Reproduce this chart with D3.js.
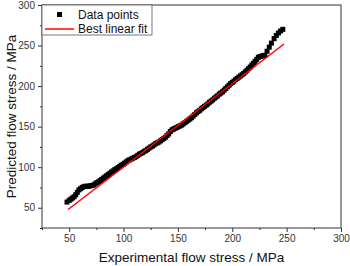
<!DOCTYPE html>
<html>
<head>
<meta charset="utf-8">
<script src="https://cdn.jsdelivr.net/npm/d3@7/dist/d3.min.js"></script>
<style>
  html, body { margin: 0; padding: 0; background: #fff; }
  svg { display: block; font-family: "Liberation Sans", Arial, sans-serif; }
</style>
</head>
<body>
<div id="chart"></div>
<script>
// experimental vs predicted flow stress (MPa)
const expX = [
  48, 50, 51.5, 53, 54.5, 56, 57.5, 59, 60.5, 62, 63.5, 65, 66.5, 68, 69.5, 71, 72.5, 74, 75.5, 77,
  78.5, 80, 81.5, 83, 84.5, 86, 87.5, 89, 90.5, 92, 93.5, 95, 96.5, 98, 99.5, 101, 102.5, 104, 105.5,
  107, 108.5, 110, 111.5, 113, 114.5, 116, 117.5, 119, 120.5, 122, 123.5, 125, 126.5, 128, 129.5, 131,
  132.5, 134, 135.5, 137, 138.5, 140, 141.5, 143, 144.5, 146, 147.5, 149, 150.5, 152, 153.5, 155, 156.5,
  158, 159.5, 161, 162.5, 164, 165.5, 167, 168.5, 170,
  171.5, 173, 174.5, 176, 177.5, 179, 180.5, 182, 183.5, 185, 186.5, 188, 189.5, 191, 192.5, 194, 195.5,
  197, 198.5, 200, 201.5, 203, 204.5, 206, 207.5, 209, 210.5, 212, 213.5, 215, 216.5, 218, 219.5, 221,
  222.5, 224, 225.5, 227, 228.5, 230,
  232, 234, 236, 238.5, 240.5, 242.5, 244.5, 246.5
];
const predY = [
  57, 59, 60.5, 62, 63.5, 66, 69, 72, 73.5, 75, 76, 76.5, 76.5, 76.5, 77, 77.5, 78, 79.5, 81, 82,
  83.5, 85, 86.5, 88, 89.5, 91, 92.5, 94, 95.5, 97, 98, 99.5, 101, 102.5, 103.5, 105, 106.5, 108, 109,
  110, 111, 112, 113, 114.5, 116, 117, 118, 119.5, 120.5, 122, 123.5, 125, 126, 127.5, 129, 130,
  131, 132.5, 134, 135.5, 137, 139, 141, 144, 146, 147, 148, 149, 150, 151, 152, 153.5, 155,
  156.5, 158, 159.5, 161, 163, 165, 167, 168.5, 170,
  172, 173.5, 175, 176.5, 178, 180, 181.5, 183, 185, 186.5, 188, 190, 191.5, 193, 195, 197, 199,
  201, 203, 204.5, 206, 208, 209.5, 211, 212.5, 214, 215.5, 217.5, 219.5, 221.5, 223.5, 226, 228, 230.5,
  233, 235.5, 236.5, 237, 237.5, 238,
  243, 248, 253, 258.5, 262.5, 265.5, 268, 270
];
// best linear fit end points
const fitX = [49, 247.6];
const fitY = [47.8, 251.9];

const xTicks = [50, 100, 150, 200, 250, 300];
const yTicks = [50, 100, 150, 200, 250, 300];
const minorTicks = [25, 75, 125, 175, 225, 275];
const legendItems = ["Data points", "Best linear fit"];

const width = 350, height = 266;
const margin = { top: 5, right: 9, bottom: 38, left: 42 };
const innerW = width - margin.left - margin.right;
const innerH = height - margin.top - margin.bottom;

const svg = d3.select("#chart").append("svg")
  .attr("width", width)
  .attr("height", height);

const g = svg.append("g")
  .attr("transform", `translate(${margin.left},${margin.top})`);

const x = d3.scaleLinear().domain([25, 300]).range([0, innerW]);
const y = d3.scaleLinear().domain([25, 300]).range([innerH, 0]);

// axes
const xAxis = g.append("g")
  .attr("transform", `translate(0,${innerH})`)
  .call(d3.axisBottom(x).tickValues(xTicks).tickSize(4).tickPadding(3));
const xMinor = g.append("g")
  .attr("transform", `translate(0,${innerH})`)
  .call(d3.axisBottom(x).tickValues(minorTicks).tickSize(2).tickFormat(""));
const yAxis = g.append("g")
  .call(d3.axisLeft(y).tickValues(yTicks).tickSize(4).tickPadding(3));
const yMinor = g.append("g")
  .call(d3.axisLeft(y).tickValues(minorTicks).tickSize(2).tickFormat(""));

[xAxis, xMinor, yAxis, yMinor].forEach(a => {
  a.select(".domain").remove();
  a.selectAll("line").attr("stroke", "#333").attr("stroke-width", 1);
  a.selectAll("text").attr("fill", "#333").style("font-size", "10px");
});

// frame
g.append("rect")
  .attr("x", 0).attr("y", 0)
  .attr("width", innerW).attr("height", innerH)
  .attr("fill", "none")
  .attr("stroke", "#333")
  .attr("stroke-width", 1);

// data squares
g.selectAll(".pt")
  .data(expX.map((v, i) => ({ x: v, y: predY[i] })))
  .enter().append("rect")
  .attr("class", "pt")
  .attr("x", d => x(d.x) - 2.5)
  .attr("y", d => y(d.y) - 2.5)
  .attr("width", 5)
  .attr("height", 5)
  .attr("fill", "#000");

// fit line
g.append("line")
  .attr("x1", x(fitX[0])).attr("y1", y(fitY[0]))
  .attr("x2", x(fitX[1])).attr("y2", y(fitY[1]))
  .attr("stroke", "#f00")
  .attr("stroke-width", 1.5);

// legend
const lg = g.append("g");
lg.append("rect")
  .attr("x", 0).attr("y", 0)
  .attr("width", 110).attr("height", 30)
  .attr("fill", "#fff")
  .attr("stroke", "#555")
  .attr("stroke-width", 0.8);
lg.append("rect")
  .attr("x", 15).attr("y", 7)
  .attr("width", 5).attr("height", 5)
  .attr("fill", "#000");
lg.append("line")
  .attr("x1", 3).attr("x2", 32)
  .attr("y1", 24).attr("y2", 24)
  .attr("stroke", "#f00")
  .attr("stroke-width", 1.5);
lg.selectAll(".lt")
  .data(legendItems)
  .enter().append("text")
  .attr("class", "lt")
  .attr("x", 36)
  .attr("y", (d, i) => 10 + i * 14)
  .attr("dy", "0.35em")
  .attr("fill", "#111")
  .style("font-size", "12px")
  .text(d => d);

// axis titles
svg.append("text")
  .attr("x", margin.left + innerW / 2)
  .attr("y", 262)
  .attr("text-anchor", "middle")
  .attr("fill", "#111")
  .style("font-size", "13.5px")
  .text("Experimental flow stress / MPa");

svg.append("text")
  .attr("transform", `translate(16,${margin.top + innerH / 2}) rotate(-90)`)
  .attr("text-anchor", "middle")
  .attr("fill", "#111")
  .style("font-size", "13.5px")
  .text("Predicted flow stress / MPa");
</script>
</body>
</html>
